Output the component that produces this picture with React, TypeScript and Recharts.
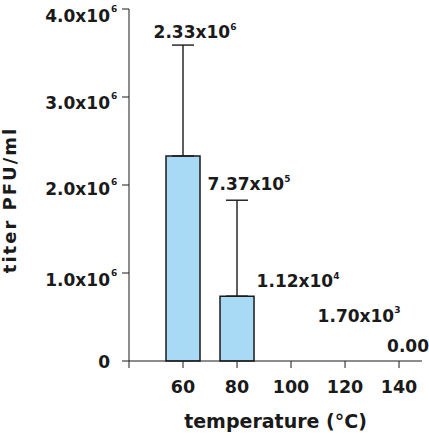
import React from 'react';
import { ComposedChart, Bar, Line, XAxis, YAxis, ErrorBar, LabelList, Rectangle } from 'recharts';

// temperatures (°C)
const temperatures = [60, 80, 100, 120, 140];
// mean titer (PFU/ml)
const titers = [2.33e6, 7.37e5, 1.12e4, 1.7e3, 0];
// upper error (SD) - null where no error bar is drawn
const errorsUp: (number | null)[] = [1.26e6, 1.09e6, null, null, null];

const xTicks = [40, 60, 80, 100, 120, 140];
const yTicks = [0, 1e6, 2e6, 3e6, 4e6];

// label placement tweaks (px), relative to the top of the error bar / bar
const labelDx = [12, 12, 7, 14, 9];
const labelDy = [-7, -10, -73, -39, -9];
// baseline offset of each y tick label below its tick (the original is uneven)
const yTickDy = [6.5, 13, 10, 12, 12.5];

const data = temperatures.map((t, i) => ({
    temp: t,
    titer: titers[i],
    err: errorsUp[i] == null ? null : [0, errorsUp[i]],
    labelAt: titers[i] + (errorsUp[i] ?? 0),
}));

const FONT = '"DejaVu Sans", sans-serif';
const INK = '#1a1a1a';

function sciParts(v: number, digits: number) {
    if (v === 0) return { mant: digits > 1 ? (0).toFixed(digits) : '0', exp: '' };
    const [m, e] = v.toExponential(digits).split('e');
    return { mant: `${m}x10`, exp: String(parseInt(e, 10)) };
}

function YTick({ x, y, payload, index }: any) {
    const { mant, exp } = sciParts(payload.value, 1);
    const base = y + (yTickDy[index] ?? 6);
    return (
        <g>
            <text x={x} y={base} textAnchor="end" fontFamily={FONT} fontWeight="bold" fontSize={17} fill={INK}>
                {mant}
            </text>
            {exp && (
                <text x={x + 1} y={base - 10} textAnchor="start" fontFamily={FONT} fontWeight="bold" fontSize={9} fill={INK}>
                    {exp}
                </text>
            )}
        </g>
    );
}

function XTick({ x, y, payload }: any) {
    if (payload.value === 40) return null;
    return (
        <text x={x} y={y + 23} textAnchor="middle" fontFamily={FONT} fontWeight="bold" fontSize={17.5} fill={INK}>
            {payload.value}
        </text>
    );
}

function ValueLabel(props: any) {
    const { x, y, value, index } = props;
    const { mant, exp } = sciParts(value, 2);
    return (
        <text
            x={x + labelDx[index]}
            y={y + labelDy[index]}
            textAnchor="middle"
            fontFamily={FONT}
            fontWeight="bold"
            fontSize={17}
            fill={INK}
        >
            <tspan>{mant}</tspan>
            {exp && (
                <tspan dy={-8.5} fontSize={9}>
                    {exp}
                </tspan>
            )}
        </text>
    );
}

// bars thinner than a pixel are not drawn in the original figure
function BarShape(props: any) {
    if (!props.height || props.height < 1) return <g />;
    return <Rectangle {...props} />;
}

export default function App() {
    return (
        <div style={{ position: 'absolute', left: 0, top: 0, background: '#fff' }}>
            <ComposedChart width={429} height={438} data={data} margin={{ top: 9, right: 7, left: 0, bottom: 0 }}>
                <XAxis
                    dataKey="temp"
                    type="number"
                    domain={[40, 148.5]}
                    ticks={xTicks}
                    allowDataOverflow
                    height={77}
                    tickSize={7}
                    tick={<XTick />}
                    stroke={INK}
                    label={{
                        value: 'temperature (°C)',
                        position: 'insideBottom',
                        offset: 10,
                        fill: INK,
                        style: { fontFamily: FONT, fontWeight: 'bold', fontSize: 19 },
                    }}
                />
                <YAxis
                    type="number"
                    domain={[0, 4e6]}
                    ticks={yTicks}
                    width={129}
                    tickSize={7}
                    tickMargin={12}
                    tick={<YTick />}
                    stroke={INK}
                    label={{
                        value: 'titer PFU/ml',
                        angle: -90,
                        position: 'insideLeft',
                        offset: 10,
                        dy: 15,
                        fill: INK,
                        style: { fontFamily: FONT, fontWeight: 'bold', fontSize: 18, letterSpacing: 2, textAnchor: 'middle' },
                    }}
                />
                <Bar
                    dataKey="titer"
                    barSize={34}
                    fill="#a8daf6"
                    stroke={INK}
                    strokeWidth={1.5}
                    shape={<BarShape />}
                    isAnimationActive={false}
                >
                    <ErrorBar dataKey="err" width={11} stroke={INK} strokeWidth={1.4} direction="y" />
                </Bar>
                <Line
                    dataKey="labelAt"
                    stroke="none"
                    dot={false}
                    activeDot={false}
                    isAnimationActive={false}
                >
                    <LabelList dataKey="titer" content={<ValueLabel />} />
                </Line>
            </ComposedChart>
        </div>
    );
}
